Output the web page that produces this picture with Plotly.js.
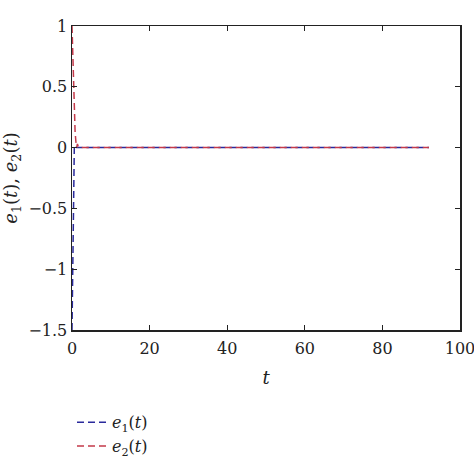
<!DOCTYPE html>
<html>
<head>
<meta charset="utf-8">
<script src="https://cdn.plot.ly/plotly-3.0.1.min.js"></script>
<style>
body { margin: 0; background: #fff; }
#graphe { width: 474px; height: 474px; }
</style>
</head>
<body>
<div id="graphe"></div>
<script>
// temps et erreurs
let temps = [0, 0.1, 0.25, 0.4, 0.6, 0.8, 1.0, 1.2, 1.4, 1.6, 2, 3, 5, 10, 20, 30, 40, 50, 60, 70, 80, 92]
let e1 = [-1.5, -1.15, -0.55, -0.05, 0.02, 0.01, 0, 0, 0, 0, 0, 0, 0, 0, 0, 0, 0, 0, 0, 0, 0, 0]
let e2 = [1, 0.88, 0.6, 0.4, 0.25, 0.13, 0.05, 0.0, 0.03, 0.01, 0, 0, 0, 0, 0, 0, 0, 0, 0, 0, 0, 0]
let ticks_x = [0, 20, 40, 60, 80, 100]
let ticks_y = [-1.5, -1, -0.5, 0, 0.5, 1]

let police = "DejaVu Serif"

let trace_e1 = {
    x: temps, y: e1, mode: "lines", type: "scatter",
    name: "<i>e</i><sub>1</sub>(<i>t</i>)",
    line: {color: "#2a2a9c", width: 1.5, dash: "7px,4px"}
}
let trace_e2 = {
    x: temps, y: e2, mode: "lines", type: "scatter",
    name: "<i>e</i><sub>2</sub>(<i>t</i>)",
    line: {color: "#c43a4a", width: 1.5, dash: "7px,4px"}
}

let layout = {
    width: 474,
    height: 474,
    paper_bgcolor: "#fff",
    plot_bgcolor: "#fff",
    font: {family: police, size: 16, color: "#222"},
    margin: {l: 72, r: 14, t: 26, b: 144},
    xaxis: {
        range: [0, 100],
        tickvals: ticks_x,
        ticks: "inside",
        ticklen: 5,
        tickcolor: "#222",
        tickfont: {family: police, size: 16},
        ticklabeloverflow: "allow",
        showline: true,
        linecolor: "#222",
        linewidth: 1.5,
        mirror: "ticks",
        showgrid: false,
        zeroline: false,
        ticklabelstandoff: 3,
        title: {text: "<i>t</i>", standoff: 14, font: {family: police, size: 18}}
    },
    yaxis: {
        range: [-1.5, 1],
        tickvals: ticks_y,
        ticks: "inside",
        ticklen: 5,
        tickcolor: "#222",
        tickfont: {family: police, size: 16},
        showline: true,
        linecolor: "#222",
        linewidth: 1.5,
        mirror: "ticks",
        showgrid: false,
        zeroline: false,
        title: {text: "<i>e</i><sub>1</sub>(<i>t</i>), <i>e</i><sub>2</sub>(<i>t</i>)", standoff: 8, font: {family: police, size: 18}}
    },
    showlegend: true,
    legend: {
        x: 0, xref: "paper", y: 0.145, yref: "container", xanchor: "left", yanchor: "top",
        orientation: "v",
        bgcolor: "rgba(0,0,0,0)",
        font: {family: police, size: 16, color: "#222"},
        tracegroupgap: 0
    }
}

Plotly.newPlot("graphe", [trace_e1, trace_e2], layout, {staticPlot: true})
</script>
</body>
</html>
